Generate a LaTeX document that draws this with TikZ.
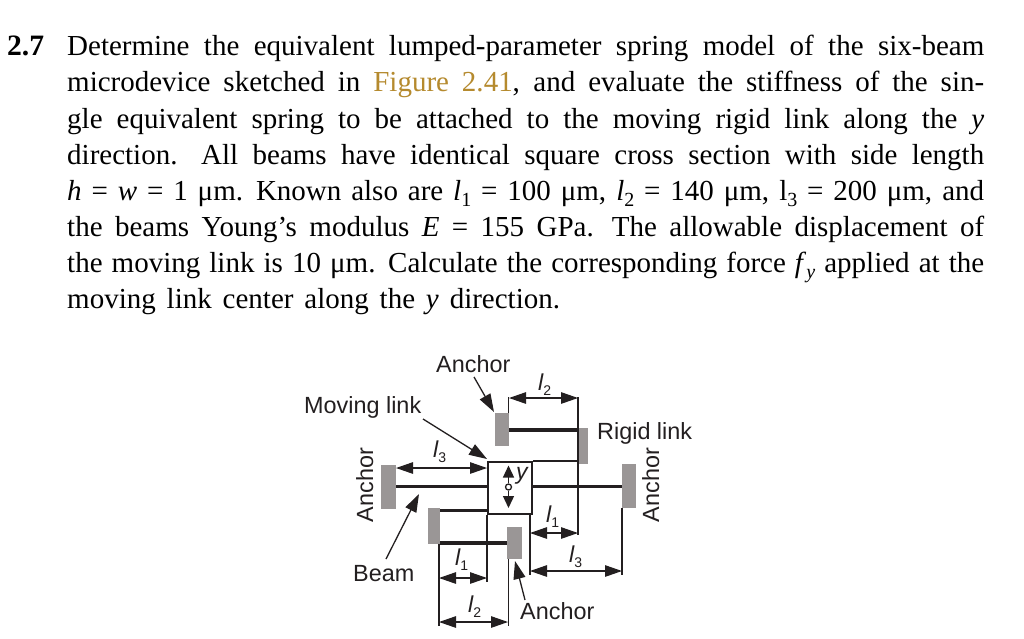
\documentclass[tikz,border=0pt]{standalone}
\usepackage{fontspec}
\setmainfont[WordSpace=1.5]{Liberation Serif}
\newfontfamily\dsans{Liberation Sans}
\usetikzlibrary{arrows.meta}
\definecolor{ink}{HTML}{231F20}
\definecolor{blockgrey}{HTML}{9A9696}
\definecolor{figref}{HTML}{B58A2E}
\newcommand\lsub[1]{\raisebox{-0.22em}{\fontsize{20}{20}\selectfont #1}}
\newcommand\dimlab[1]{{\itshape l}\raisebox{-5pt}{\fontsize{14}{14}\selectfont #1}}
\newcommand\jline[1]{\makebox[917pt][s]{#1}}
\tikzset{
  x=1pt,y=-1pt,
  textline/.style={anchor=base west,inner sep=0pt,font=\fontsize{29}{29}\selectfont,text=black},
  lab/.style={anchor=base west,inner sep=0pt,font=\dsans\fontsize{23.4}{23.4}\selectfont,text=ink},
  dimtext/.style={anchor=base west,inner sep=0pt,font=\dsans\fontsize{23}{23}\selectfont,text=ink},
  block/.style={fill=blockgrey,draw=none,inner sep=0pt,anchor=north west},
  beam/.style={draw=ink,line width=3.2pt},
  thinbeam/.style={draw=ink,line width=2.2pt},
  extline/.style={draw=ink,line width=1.7pt},
  dimline/.style={draw=ink,line width=1.1pt,{Triangle[length=17pt,width=11.5pt]}-{Triangle[length=17pt,width=11.5pt]}},
  pointer/.style={draw=ink,line width=1.3pt,-{Triangle[length=18pt,width=12pt]}},
}
\begin{document}
\begin{tikzpicture}
\useasboundingbox (0,0) rectangle (1024,638);
\fill[white] (0,0) rectangle (1024,638);
% text
\node[textline,font=\bfseries\fontsize{29.6}{29.6}\selectfont] (num) at (7,55) {2.7};
\node[textline] (t1) at (67,55) {\jline{Determine the equivalent lumped-parameter spring model of the six-beam}};
\node[textline] (t2) at (67,91) {\jline{microdevice sketched in \textcolor{figref}{Figure 2.41}, and evaluate the stiffness of the sin-}};
\node[textline] (t3) at (67,128) {\jline{gle equivalent spring to be attached to the moving rigid link along the \textit{y}}};
\node[textline] (t4) at (67,164) {\jline{direction. All beams have identical square cross section with side length}};
\node[textline] (t5) at (67,200) {\jline{\textit{h} = \textit{w} = 1 μm. Known also are \textit{l}\lsub{1} = 100 μm, \textit{l}\lsub{2} = 140 μm, l\lsub{3} = 200 μm, and}};
\node[textline] (t6) at (67,236) {\jline{the beams Young’s modulus \textit{E} = 155 GPa. The allowable displacement of}};
\node[textline] (t7) at (67,272) {\jline{the moving link is 10 μm. Calculate the corresponding force \textit{f}\lsub{\textit{y}} applied at the}};
\node[textline] (t8) at (67,308) {moving link center along the \textit{y} direction.};
% blocks
\node[block,minimum width=14pt,minimum height=33pt] (atop) at (495,413) {};
\node[block,minimum width=11pt,minimum height=36pt] (rtop) at (577,428) {};
\node[block,minimum width=15pt,minimum height=44pt] (aleft) at (381,465) {};
\node[block,minimum width=14pt,minimum height=44pt] (aright) at (622,464) {};
\node[block,minimum width=12pt,minimum height=36pt] (rlow) at (428,508) {};
\node[block,minimum width=15pt,minimum height=32pt] (alow) at (507,527) {};
\node[draw=ink,line width=2.2pt,inner sep=0pt,minimum width=44pt,minimum height=52pt,anchor=north west] (mv) at (487,461) {};
% beams
\coordinate (b1s) at (509,430);
\coordinate (b1e) at (rtop.west |- b1s);
\draw[beam] (b1s) -- (b1e);
\coordinate (b2s) at (mv.north east);
\coordinate (b2e) at (rtop.west |- mv.north);
\draw[thinbeam] (b2s) -- (b2e);
\coordinate (b3s) at (396,486.5);
\coordinate (b3e) at (mv.west |- b3s);
\draw[beam] (b3s) -- (b3e);
\coordinate (b4s) at (mv.east |- b3s);
\coordinate (b4e) at (aright.west |- b3s);
\draw[beam] (b4s) -- (b4e);
\coordinate (b5s) at (440,510.5);
\coordinate (b5e) at (mv.west |- b5s);
\draw[beam] (b5s) -- (b5e);
\coordinate (b6s) at (440,543);
\coordinate (b6e) at (alow.west |- b6s);
\draw[beam] (b6s) -- (b6e);
% extension lines
\coordinate (xl2a) at (508.5,397);
\coordinate (xl2b) at (578,397);
\coordinate (xl2c) at (578,535);
\coordinate (xl1e) at (487,582);
\coordinate (xl1f) at (439,544);
\coordinate (xl1g) at (439,626);
\coordinate (xl2g) at (508.5,559);
\coordinate (xl2h) at (508.5,626);
\coordinate (xr1) at (530,513);
\coordinate (xr2) at (530,575);
\coordinate (xr3) at (622,508);
\coordinate (xr4) at (622,575);
\draw[extline] (xl2a) -- (atop.north -| xl2a);
\draw[extline] (xl2b) -- (xl2c);
\draw[extline] (mv.south west) -- (xl1e);
\draw[extline] (xl1f) -- (xl1g);
\draw[extline] (xl2g) -- (xl2h);
\draw[extline] (xr1) -- (xr2);
\draw[extline] (xr3) -- (xr4);
% dimensions
\coordinate (d1a) at (509,398); \coordinate (d1b) at (578,398);
\draw[dimline] (d1a) -- (d1b);
\coordinate (d2a) at (396,468); \coordinate (d2b) at (487,468);
\draw[dimline] (d2a) -- (d2b);
\coordinate (d3a) at (439,578); \coordinate (d3b) at (487,578);
\draw[dimline] (d3a) -- (d3b);
\coordinate (d4a) at (439,622); \coordinate (d4b) at (508,622);
\draw[dimline] (d4a) -- (d4b);
\coordinate (d5a) at (530,533); \coordinate (d5b) at (578,533);
\draw[dimline] (d5a) -- (d5b);
\coordinate (d6a) at (530,571); \coordinate (d6b) at (622,571);
\draw[dimline] (d6a) -- (d6b);
\node[dimtext] (ld1) at (538,390) {\dimlab{2}};
\node[dimtext] (ld2) at (433,457) {\dimlab{3}};
\node[dimtext] (ld3) at (455,565) {\dimlab{1}};
\node[dimtext] (ld4) at (468,612) {\dimlab{2}};
\node[dimtext] (ld5) at (546,522) {\dimlab{1}};
\node[dimtext] (ld6) at (569,562) {\dimlab{3}};
% y arrow
\node[circle,draw=ink,line width=1.3pt,fill=white,inner sep=0pt,minimum size=6pt] (yc) at (508.5,487) {};
\coordinate (yu) at (508.5,465.5);
\coordinate (yd) at (508.5,508);
\draw[draw=ink,line width=1.3pt,-{Triangle[length=12pt,width=11pt]}] (yc) -- (yu);
\draw[draw=ink,line width=1.3pt,-{Triangle[length=12pt,width=11pt]}] (yc) -- (yd);
\node[dimtext] (ly) at (516,479) {\textit{y}};
% labels
\node[lab] (lanchor1) at (436,372) {Anchor};
\node[lab] (lmove) at (304,413) {Moving link};
\node[lab] (lrigid) at (597,439) {Rigid link};
\node[lab] (lbeam) at (353,581) {Beam};
\node[lab] (lanchor2) at (520,619) {Anchor};
\node[lab,anchor=base,rotate=90] (lanchor3) at (373,485) {Anchor};
\node[lab,anchor=base,rotate=90] (lanchor4) at (659,485) {Anchor};
% pointers
\coordinate (p1a) at (474,377); \coordinate (p1b) at (494,412);
\draw[pointer] (p1a) -- (p1b);
\coordinate (p2a) at (423,419); \coordinate (p2b) at (487,459);
\draw[pointer] (p2a) -- (p2b);
\coordinate (p3a) at (386,559); \coordinate (p3b) at (419,494);
\draw[pointer] (p3a) -- (p3b);
\coordinate (p4a) at (525,600); \coordinate (p4b) at (515,561);
\draw[pointer] (p4a) -- (p4b);
\end{tikzpicture}
\end{document}
